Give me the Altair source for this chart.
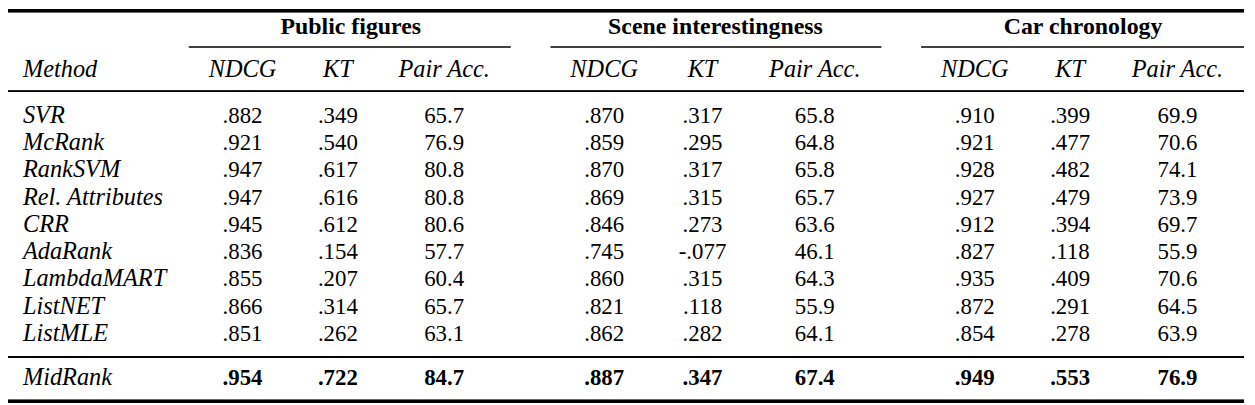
import altair as alt
import pandas as pd

# ---------------- data ----------------
methods = ["SVR", "McRank", "RankSVM", "Rel. Attributes", "CRR", "AdaRank",
           "LambdaMART", "ListNET", "ListMLE", "MidRank"]
groups = ["Public figures", "Scene interestingness", "Car chronology"]
metrics = ["NDCG", "KT", "Pair Acc."]

public_ndcg = [0.882, 0.921, 0.947, 0.947, 0.945, 0.836, 0.855, 0.866, 0.851, 0.954]
public_kt = [0.349, 0.540, 0.617, 0.616, 0.612, 0.154, 0.207, 0.314, 0.262, 0.722]
public_pair = [65.7, 76.9, 80.8, 80.8, 80.6, 57.7, 60.4, 65.7, 63.1, 84.7]

scene_ndcg = [0.870, 0.859, 0.870, 0.869, 0.846, 0.745, 0.860, 0.821, 0.862, 0.887]
scene_kt = [0.317, 0.295, 0.317, 0.315, 0.273, -0.077, 0.315, 0.118, 0.282, 0.347]
scene_pair = [65.8, 64.8, 65.8, 65.7, 63.6, 46.1, 64.3, 55.9, 64.1, 67.4]

car_ndcg = [0.910, 0.921, 0.928, 0.927, 0.912, 0.827, 0.935, 0.872, 0.854, 0.949]
car_kt = [0.399, 0.477, 0.482, 0.479, 0.394, 0.118, 0.409, 0.291, 0.278, 0.553]
car_pair = [69.9, 70.6, 74.1, 73.9, 69.7, 55.9, 70.6, 64.5, 63.9, 76.9]

best_method = "MidRank"

# ---------------- build table ----------------
series = [public_ndcg, public_kt, public_pair,
          scene_ndcg, scene_kt, scene_pair,
          car_ndcg, car_kt, car_pair]


def fmt(v, k):
    if k % 3 == 2:
        return f"{v:.1f}"
    s = f"{v:.3f}"
    return s.replace("0.", ".", 1)


cells = []
for i, m in enumerate(methods):
    for k, vals in enumerate(series):
        cells.append({"row": i + 1, "col": k + 1, "text": fmt(vals[i], k),
                      "bold": m == best_method})
cells = pd.DataFrame(cells)

heads = pd.DataFrame([{"row": 0, "col": g * 3 + j + 1, "text": metrics[j]}
                      for g in range(3) for j in range(3)])
names = pd.DataFrame([{"row": 0, "text": "Method"}] +
                     [{"row": i + 1, "text": m} for i, m in enumerate(methods)])
grp = pd.DataFrame([{"row": -1, "col": g * 3 + 2, "first": g * 3 + 1,
                     "last": g * 3 + 3, "text": groups[g]} for g in range(3)])

# ---------------- layout (scales) ----------------
col_dom = list(range(1, 10))
col_rng = [236, 332, 439, 600, 699, 812, 973, 1069, 1177]
row_dom = list(range(-1, 11))
row_rng = [18, 61, 107, 134.5, 162, 189.5, 217, 244.5, 272, 299.5, 327, 371]

xs = alt.Scale(domain=col_dom, range=col_rng, nice=False, zero=False)
ys = alt.Scale(domain=row_dom, range=row_rng, nice=False, zero=False)
X = alt.X("col:Q", scale=xs, axis=None)
Y = alt.Y("row:Q", scale=ys, axis=None)

FONT = "'Liberation Serif', 'Times New Roman', Times, 'DejaVu Serif', serif"
FS = 23
FS_IT = 24.5
FS_GRP = 24

vals_plain = alt.Chart(cells).transform_filter("!datum.bold").mark_text(
    font=FONT, fontSize=FS, align="center", baseline="middle", color="black"
).encode(x=X, y=Y, text="text:N")

vals_bold = alt.Chart(cells).transform_filter("datum.bold").mark_text(
    font=FONT, fontSize=FS, fontWeight="bold", align="center",
    baseline="middle", color="black"
).encode(x=X, y=Y, text="text:N")

head_txt = alt.Chart(heads).mark_text(
    font=FONT, fontSize=FS_IT, fontStyle="italic", align="center",
    baseline="middle", color="black"
).encode(x=X, y=Y, text="text:N")

name_txt = alt.Chart(names).mark_text(
    font=FONT, fontSize=FS_IT, fontStyle="italic", align="left",
    baseline="middle", color="black"
).encode(x=alt.value(15), y=Y, text="text:N")

grp_txt = alt.Chart(grp).mark_text(
    font=FONT, fontSize=FS_GRP, fontWeight="bold", align="center",
    baseline="middle", color="black", dx=13
).encode(x=X, y=Y, text="text:N")

grp_rule = alt.Chart(grp).mark_rule(
    color="black", strokeWidth=1.5, xOffset=-54, x2Offset=67
).encode(x=alt.X("first:Q", scale=xs, axis=None), x2="last:Q",
         y=alt.value(38))

top_rule = alt.Chart(grp).mark_rule(color="black", strokeWidth=3).encode(
    x=alt.value(0), x2=alt.value(1244), y=alt.value(1.5))
head_rule = alt.Chart(grp).mark_rule(color="black", strokeWidth=1.6).encode(
    x=alt.value(0), x2=alt.value(1244), y=alt.value(82.5))
mid_rule = alt.Chart(grp).mark_rule(color="black", strokeWidth=1.6).encode(
    x=alt.value(0), x2=alt.value(1244), y=alt.value(350))
bot_rule = alt.Chart(grp).mark_rule(color="black", strokeWidth=3).encode(
    x=alt.value(0), x2=alt.value(1244), y=alt.value(394.5))

chart = alt.layer(
    top_rule, head_rule, mid_rule, bot_rule, grp_rule,
    grp_txt, head_txt, name_txt, vals_plain, vals_bold
).properties(
    width=1247, height=397, padding=0, autosize=alt.AutoSizeParams(type="none"),
    background="white"
).configure_view(stroke=None)

chart.save("out.html", embed_options={"renderer": "svg", "actions": False})
